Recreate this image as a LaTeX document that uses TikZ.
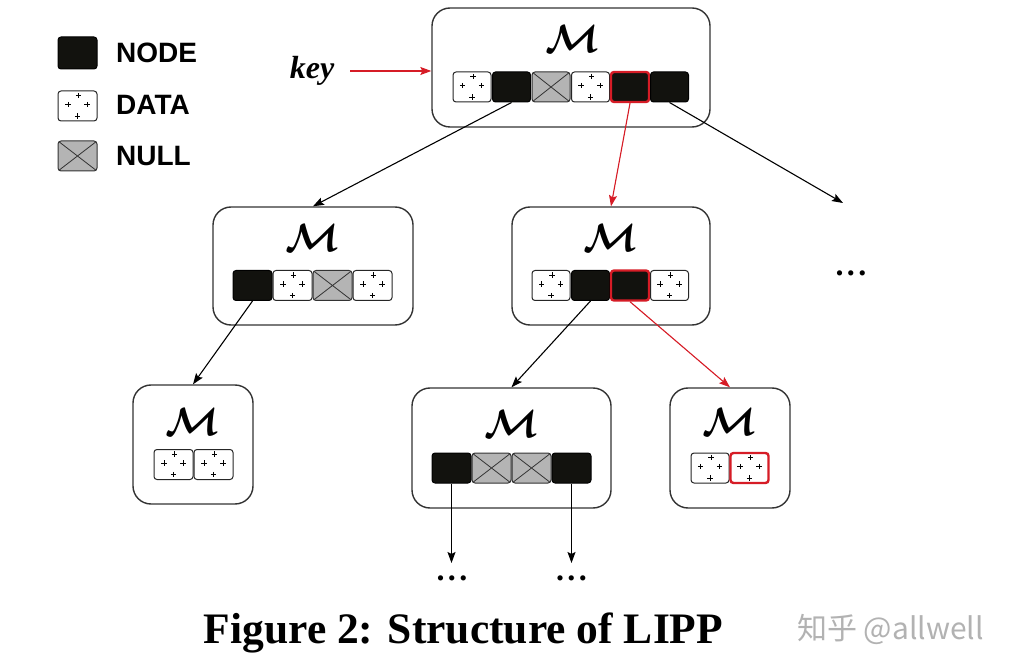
\documentclass[tikz,border=0pt]{standalone}
\usepackage{fontspec}
\setmainfont{Liberation Serif}
\setsansfont{Liberation Sans}
\newfontfamily\cjkfont{Noto Sans CJK SC}
\usetikzlibrary{arrows.meta,calc}
\definecolor{hlred}{RGB}{214,28,38}
\definecolor{nullgray}{RGB}{180,180,180}
\definecolor{nodeblack}{RGB}{18,18,14}
\tikzset{
  mbox/.style={draw=black!80, line width=1.4pt, rounded corners=18pt, inner sep=0pt, fill=white},
  cellbase/.style={minimum width=38pt, minimum height=30pt, inner sep=0pt, rounded corners=3pt, line width=1pt},
  ncell/.style={cellbase, draw=black, fill=nodeblack},
  dcell/.style={cellbase, draw=black!85, fill=white,
    path picture={
      \foreach \a/\b in {1/-10.5,-9.5/-1.5,9.5/-1.5,0/10}{
        \draw[draw=black, line width=0.7pt, shift={(path picture bounding box.center)}]
          (\a-2.6,\b) -- (\a+2.6,\b) (\a,\b-2.6) -- (\a,\b+2.6);
      }
    }},
  xcell/.style={cellbase, draw=black!80, fill=nullgray,
    path picture={
      \draw[line width=0.8pt] (path picture bounding box.north west) -- (path picture bounding box.south east)
        (path picture bounding box.north east) -- (path picture bounding box.south west);
    }},
  redcell/.style={draw=hlred, line width=2.4pt},
  mlab/.style={font=\huge\boldmath, scale=1.9, anchor=base, inner sep=0pt},
  legtext/.style={font=\sffamily\bfseries\fontsize{28}{30}\selectfont, anchor=west, inner sep=0pt},
  arr/.style={-{Stealth[length=11pt,width=8pt,inset=2pt]}, line width=1.1pt, black},
  rarr/.style={arr, draw=hlred, fill=hlred},
  dotlab/.style={font=\bfseries\fontsize{32}{32}\selectfont, inner sep=0pt}
}
\begin{document}
\begin{tikzpicture}[x=1pt,y=-1pt]
\useasboundingbox (0,0) rectangle (1012,668);

% legend
\node[ncell, minimum width=39pt, minimum height=32pt] (lgn) at (77.5,53) {};
\node[dcell, minimum width=39pt] (lgd) at (77.5,106) {};
\node[xcell, minimum width=39pt] (lgx) at (77.5,156) {};
\node[legtext] (lgnt) at (116,53) {NODE};
\node[legtext] (lgdt) at (116,105) {DATA};
\node[legtext] (lgxt) at (116,156) {NULL};

% key
\node[font=\bfseries\itshape\fontsize{32}{34}\selectfont, inner ysep=0pt, inner xsep=0pt] (key) at (312,71) {key};

% boxes
\node[mbox, minimum width=278pt, minimum height=119pt] (top) at (571,67.5) {};
\node[mbox, minimum width=200pt, minimum height=118pt] (ml) at (313,266) {};
\node[mbox, minimum width=198pt, minimum height=118pt] (mm) at (611,266) {};
\node[mbox, minimum width=120pt, minimum height=119pt] (bl) at (193,444.5) {};
\node[mbox, minimum width=199pt, minimum height=120pt] (bm) at (511.5,448) {};
\node[mbox, minimum width=120pt, minimum height=120pt] (br) at (730,448) {};

% M labels
\node[mlab] (mtop) at (573,53) {$\mathcal{M}$};
\node[mlab] (mml) at (313,252) {$\mathcal{M}$};
\node[mlab] (mmm) at (611,252) {$\mathcal{M}$};
\node[mlab] (mbl) at (193,435) {$\mathcal{M}$};
\node[mlab] (mbm) at (511.5,437) {$\mathcal{M}$};
\node[mlab] (mbr) at (730,435) {$\mathcal{M}$};

% top cells
\node[dcell] (t1) at (472,87) {};
\node[ncell] (t2) at (511.5,87) {};
\node[xcell] (t3) at (551,87) {};
\node[dcell] (t4) at (590.5,87) {};
\node[ncell, redcell] (t5) at (630,87) {};
\node[ncell] (t6) at (669.5,87) {};

% mid-left cells
\node[ncell, minimum width=39pt] (ml1) at (252.5,285.5) {};
\node[dcell, minimum width=39pt] (ml2) at (292.5,285.5) {};
\node[xcell, minimum width=39pt] (ml3) at (332.5,285.5) {};
\node[dcell, minimum width=39pt] (ml4) at (372.5,285.5) {};

% mid-mid cells
\node[dcell] (mm1) at (551,285.5) {};
\node[ncell] (mm2) at (590.5,285.5) {};
\node[ncell, redcell] (mm3) at (630,285.5) {};
\node[dcell] (mm4) at (669.5,285.5) {};

% bottom-left cells
\node[dcell, minimum width=39pt] (bl1) at (173.5,464.5) {};
\node[dcell, minimum width=39pt] (bl2) at (213.5,464.5) {};

% bottom-mid cells
\node[ncell, minimum width=39pt] (bm1) at (451.5,468) {};
\node[xcell, minimum width=39pt] (bm2) at (491.5,468) {};
\node[xcell, minimum width=39pt] (bm3) at (531.5,468) {};
\node[ncell, minimum width=39pt] (bm4) at (571.5,468) {};

% bottom-right cells
\node[dcell] (br1) at (710,468) {};
\node[dcell, redcell] (br2) at (749.5,468) {};

% dots
\coordinate (dR) at (843,203);
\coordinate (dB1) at (451.5,563);
\coordinate (dB2) at (571.5,563);
\node[dotlab] (dotsR) at (851,273) {.\kern3.5pt.\kern3.5pt.};
\node[dotlab] (dotsB1) at (452,578) {.\kern3.5pt.\kern3.5pt.};
\node[dotlab] (dotsB2) at (571.5,578) {.\kern3.5pt.\kern3.5pt.};

% connectors
\draw[rarr] ([xshift=16pt]key.east) -- (key.east -| top.west);
\draw[arr] (t2.south) -- (ml.north);
\draw[rarr] (t5.south) -- (mm.north);
\draw[arr] (t6.south) -- (dR);
\draw[arr] (ml1.south) -- (bl.north);
\draw[arr] (mm2.south) -- (bm.north);
\draw[rarr] (mm3.south) -- (br.north);
\draw[arr] (bm1.south) -- (dB1);
\draw[arr] (bm4.south) -- (dB2);

% caption and watermark
\node[font=\bfseries\fontsize{43.5}{46}\selectfont, anchor=base, inner sep=0pt] (cap) at (463.5,643) {Figure 2: Structure of LIPP};
\node[font=\cjkfont\fontsize{30}{32}\selectfont, text=black!30, anchor=base west, inner sep=0pt] (wm) at (797,639) {知乎 @allwell};
\end{tikzpicture}
\end{document}
